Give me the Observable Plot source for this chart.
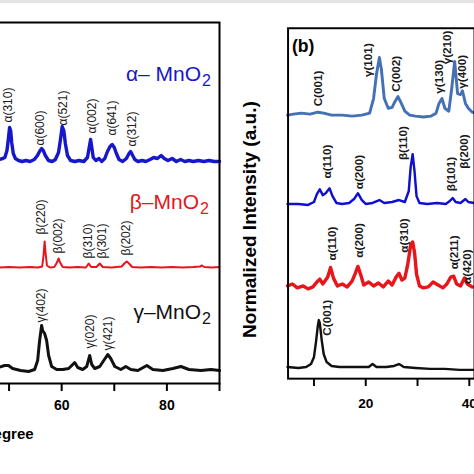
<!DOCTYPE html>
<html>
<head>
<meta charset="utf-8">
<script src="https://cdn.jsdelivr.net/npm/d3@7"></script>
<script src="https://cdn.jsdelivr.net/npm/@observablehq/plot@0.6"></script>
<style>
  html, body { margin: 0; padding: 0; background: #fff; }
  body { width: 474px; height: 474px; overflow: hidden; position: relative; font-family: Arial, "Liberation Sans", sans-serif; }
  .strip { position: absolute; left: 0; top: 0; width: 474px; height: 3px; background: #e4e4e4; }
  .panel { position: absolute; }
</style>
</head>
<body>
<div class="strip"></div>
<div id="panelA" class="panel" style="left:-33.5px; top:12px"></div>
<div id="panelB" class="panel" style="left:229px; top:18px"></div>
<script>
// ---- Panel (a): XRD patterns of the three MnO2 polymorphs, stacked (2θ, intensity a.u.) ----
const alphaPattern = [
  [48.0,224],[48.8,225],[49.2,226],[49.6,233],[49.9,246],[50.1,256],[50.3,253],[50.5,241],[50.8,230],[51.2,225],
  [51.8,223],[52.5,222],[53.2,223],[54.0,222],[54.8,224],[55.4,228],[55.9,233],[56.2,235],[56.5,233],[56.9,228],
  [57.5,223],[58.2,222],[58.8,224],[59.4,231],[59.8,245],[60.1,257],[60.4,253],[60.7,240],[61.1,228],[61.7,223],
  [62.5,222],[63.3,223],[64.2,222],[64.9,226],[65.3,238],[65.5,244],[65.7,237],[66.0,226],[66.5,223],[67.1,225],
  [67.6,222],[68.2,225],[68.7,232],[69.2,237],[69.6,239],[70.0,236],[70.4,230],[70.9,224],[71.6,222],[72.3,225],
  [72.8,230],[73.1,232],[73.4,229],[73.9,224],[74.5,222],[75.3,223],[76.0,222],[76.8,224],[77.5,226],[78.2,225],
  [78.9,228],[79.5,225],[80.2,223],[81.0,225],[81.8,222],[82.6,224],[83.4,222],[84.2,223],[85.0,222],[86.0,223],
  [87.0,222],[88.0,223],[89.0,222],[90.0,222]
];
const betaPattern = [
  [48.0,116],[50.0,116.5],[52.0,116],[54.0,116.5],[55.5,116],[56.3,117],[56.55,128],[56.76,142],[56.95,130],[57.2,118],
  [57.8,116],[58.6,116.5],[59.1,121],[59.43,125],[59.7,121],[60.2,116.5],[61.5,116],[63.0,116.5],[64.6,116],[65.14,120],
  [65.6,116.5],[66.6,116.5],[67.24,120],[67.8,116.5],[69.5,116],[71.4,117],[72.0,120.5],[72.38,122],[72.8,120],[73.4,116.5],
  [75.0,116],[77.0,116.5],[79.0,116],[81.0,116.5],[83.0,116],[85.0,116.5],[86.3,117],[86.67,118],[87.1,116.5],[88.5,116],[90.0,116.5]
];
const gammaPattern = [
  [48.0,16],[49.14,18],[49.9,18],[50.67,15],[52.19,13],[53.71,12],[54.86,14],[55.43,23],[55.81,43],[56.19,58],
  [56.38,53],[56.76,50],[57.14,43],[57.52,28],[58.1,17],[59.05,14],[60.19,14],[61.33,15],[62.1,19],[62.48,21],
  [63.05,16],[64.0,14],[64.76,17],[65.33,28],[65.71,19],[66.29,15],[67.24,17],[68.0,23],[68.76,29],[69.33,25],
  [70.1,17],[71.24,14],[72.19,17],[73.14,14],[74.48,13],[76.19,18],[77.33,14],[79.24,13],[81.14,15],[82.67,17],
  [84.19,14],[86.48,13],[88.38,14],[90.0,13]
];
const alphaPeaks = [
  ["α(310)",49.9,261],["α(600)",56.0,238],["α(521)",60.19,258],["α(002)",65.71,250],["α(641)",69.52,248],["α(312)",73.33,237]
];
const betaPeaks = [
  ["β(220)",56.19,149],["β(002)",59.24,130],["β(310)",64.95,125],["β(301)",67.62,125],["β(202)",72.19,128]
];
const gammaPeaks = [
  ["γ(402)",56.19,61],["γ(020)",65.33,35],["γ(421)",68.76,33]
];
const phaseNames = ["α– MnO", "β–MnO", "γ–MnO"];
const phaseNamePos = [[86.5,303],[86.1,175],[86.5,65]];
const phaseColors = ["#1616cc", "#e4161c", "#111111"];

// ---- Panel (b): XRD patterns, stacked (2θ, normalized intensity a.u.) ----
const topPattern = [
  [4.9,270],[6.04,271],[7.55,272],[9.25,271],[10.75,273],[11.89,272],[13.4,270],[15.47,270],[17.36,269],[19.25,270],
  [20.75,272],[21.51,287],[22.08,312],[22.64,329],[23.02,317],[23.58,287],[24.34,277],[25.09,278],[25.66,284],[26.23,289],
  [26.79,283],[27.55,274],[28.49,270],[29.62,269],[31.13,268],[32.64,269],[33.58,272],[34.15,282],[34.72,287],[35.28,277],
  [36.04,274],[36.6,297],[37.17,325],[37.74,292],[38.3,291],[38.68,295],[39.25,282],[39.81,277],[40.57,273],[41.9,271]
];
const middlePattern = [
  [4.9,179],[6.98,179],[8.87,178],[10.0,181],[10.57,189],[11.13,194],[11.7,188],[12.26,190],[13.02,195],[13.58,187],
  [14.34,180],[15.47,179],[16.79,180],[17.74,184],[18.49,190],[19.25,183],[20.0,179],[21.32,180],[22.64,183],[23.58,180],
  [25.09,181],[26.42,183],[27.55,181],[28.3,192],[28.68,217],[29.06,230],[29.43,212],[29.81,187],[30.38,180],[31.89,179],
  [33.77,180],[35.47,179],[36.23,182],[36.79,185],[37.36,181],[38.3,180],[39.25,184],[39.81,181],[40.9,180]
];
const redPattern = [
  [4.9,95],[5.85,97],[6.79,93],[7.92,95],[8.87,92],[9.81,94],[10.57,99],[11.13,102],[11.7,97],[12.64,104],
  [13.21,114],[13.77,103],[14.53,95],[15.47,97],[16.42,94],[17.36,100],[17.92,107],[18.49,115],[19.06,106],[19.62,96],
  [20.57,99],[21.51,95],[22.45,98],[23.4,94],[24.34,100],[25.09,96],[25.85,104],[26.42,108],[26.98,101],[27.55,103],
  [28.11,117],[28.68,137],[29.06,140],[29.43,129],[29.81,107],[30.38,95],[31.13,93],[32.08,94],[33.02,99],[33.96,96],
  [34.91,93],[35.66,97],[36.42,104],[36.98,105],[37.55,97],[38.3,95],[39.06,103],[39.62,97],[40.57,94]
];
const bottomPattern = [
  [4.9,12],[6.98,11],[8.49,12],[9.43,15],[10.0,22],[10.38,37],[10.75,54],[10.94,60],[11.13,57],[11.51,39],
  [11.89,25],[12.45,17],[13.4,13],[14.91,12],[16.79,12],[18.68,12],[20.57,12],[21.32,15],[22.08,12],[23.96,12],
  [25.47,13],[26.42,15],[27.36,12],[29.62,11],[32.45,10],[35.28,10],[38.11,9],[40.94,9]
];
const panelBPeaks = [
  ["C(001)",10.75,279],["γ(101)",20.57,309],["C(002)",25.85,294],["γ(130)",34.15,292],["γ(210)",35.66,322],["γ(400)",38.68,297],
  ["α(110)",12.64,205],["α(200)",18.68,194],["β(110)",27.17,224],["β(101)",36.6,192],["β(200)",39.06,215],
  ["α(110)",13.58,121],["α(200)",18.68,124],["α(310)",27.36,129],["α(211)",37.17,112],["α(420)",39.62,97],
  ["C(001)",12.64,44]
];
const panelBColors = ["#4470b6", "#1010cc", "#e8161b", "#111111"];
const xTicksA = [50, 60, 70, 80, 90];
const xTicksB = [10, 20, 30, 40];

const rows = pts => pts.map(([theta, intensity]) => ({theta, intensity}));
const peakRows = pk => pk.map(([label, theta, intensity]) => ({label, theta, intensity}));
const everyOther = d => (d % 20 === 0 ? String(d) : "");
const svgStyle = {background: "transparent", overflow: "visible", fontFamily: "Arial, 'Liberation Sans', sans-serif"};

const peakText = (data, opts = {}) => Plot.text(peakRows(data), {
  x: "theta", y: "intensity", text: "label", rotate: -90, textAnchor: "start",
  fontSize: 12, fill: "#1a1a1a", ...opts
});

const panelA = Plot.plot({
  width: 262, height: 441,
  marginLeft: 10, marginRight: 10, marginTop: 10, marginBottom: 70,
  style: svgStyle,
  x: {domain: [44, 90]},
  y: {domain: [0, 361], axis: null},
  marks: [
    Plot.line(rows(gammaPattern), {x: "theta", y: "intensity", stroke: phaseColors[2], strokeWidth: 3}),
    Plot.line(rows(betaPattern), {x: "theta", y: "intensity", stroke: phaseColors[1], strokeWidth: 2}),
    Plot.line(rows(alphaPattern), {x: "theta", y: "intensity", stroke: phaseColors[0], strokeWidth: 3.4}),
    peakText(alphaPeaks),
    peakText(betaPeaks),
    peakText(gammaPeaks),
    Plot.text(phaseNames, {
      x: (d, i) => phaseNamePos[i][0], y: (d, i) => phaseNamePos[i][1],
      text: d => d, fill: (d, i) => phaseColors[i], textAnchor: "end", lineAnchor: "bottom", fontSize: 21
    }),
    Plot.text(phaseNames, {
      x: (d, i) => phaseNamePos[i][0], y: (d, i) => phaseNamePos[i][1],
      text: () => "2", fill: (d, i) => phaseColors[i], textAnchor: "start", lineAnchor: "bottom", fontSize: 16, dx: 1, dy: 5
    }),
    Plot.frame({stroke: "#000", strokeWidth: 2}),
    Plot.axisX({ticks: xTicksA, tickFormat: everyOther, tickSize: 8, tickPadding: 9, fontSize: 14, fontWeight: "bold", strokeWidth: 2, label: null}),
    Plot.text(["2θ / Degree"], {frameAnchor: "bottom", x: [54.67], textAnchor: "end", lineAnchor: "bottom", dy: 55, fontSize: 15, fontWeight: "bold"})
  ]
});
document.getElementById("panelA").append(panelA);

const panelB = Plot.plot({
  width: 251, height: 409,
  marginLeft: 60, marginRight: 0, marginTop: 10, marginBottom: 40,
  style: svgStyle,
  x: {domain: [5, 41]},
  y: {domain: [0, 359], axis: null},
  marks: [
    Plot.line(rows(bottomPattern), {x: "theta", y: "intensity", stroke: panelBColors[3], strokeWidth: 2.5}),
    Plot.line(rows(redPattern), {x: "theta", y: "intensity", stroke: panelBColors[2], strokeWidth: 3.5}),
    Plot.line(rows(middlePattern), {x: "theta", y: "intensity", stroke: panelBColors[1], strokeWidth: 2.5}),
    Plot.line(rows(topPattern), {x: "theta", y: "intensity", stroke: panelBColors[0], strokeWidth: 3}),
    peakText(panelBPeaks, {fontWeight: "bold"}),
    Plot.text(["(b)"], {frameAnchor: "top-left", dx: 4, dy: 24, lineAnchor: "bottom", textAnchor: "start", fontSize: 18, fontWeight: "bold"}),
    Plot.text(["Normalized Intensity (a.u.)"], {x: [5], y: [163], rotate: -90, textAnchor: "middle", dx: -39, fontSize: 19.5, fontWeight: "bold"}),
    Plot.frame({stroke: "#000", strokeWidth: 2}),
    Plot.axisX({ticks: xTicksB, tickFormat: everyOther, tickSize: 8, tickPadding: 12, fontSize: 14, fontWeight: "bold", strokeWidth: 2, label: null})
  ]
});
document.getElementById("panelB").append(panelB);
</script>
</body>
</html>
